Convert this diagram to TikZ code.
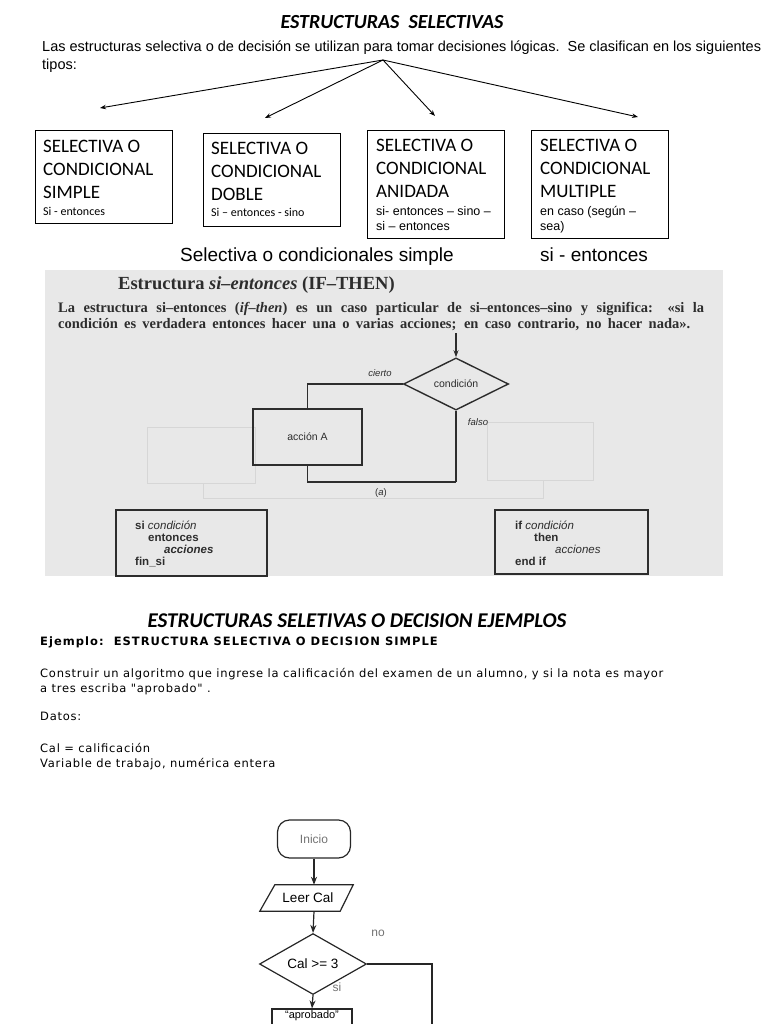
\documentclass[tikz,border=0pt]{standalone}
\usepackage{fontspec}
\setmainfont{Liberation Sans}
\newfontfamily\calfont{Carlito}
\newfontfamily\serfont{Liberation Serif}
\newfontfamily\verfont[LetterSpace=6.5]{DejaVu Sans}
\newfontfamily\verboldfont[LetterSpace=9]{DejaVu Sans Bold}
\usetikzlibrary{arrows.meta,shapes.geometric}
\definecolor{scanbg}{RGB}{232,232,232}
\definecolor{scanink}{RGB}{45,45,45}
\definecolor{ghost}{RGB}{214,214,214}
\begin{document}
\begin{tikzpicture}[x=1pt,y=-1pt,
  every node/.style={inner sep=0pt},
  bigtitle/.style={font=\calfont\bfseries\itshape\fontsize{20}{24}\selectfont},
  intro/.style={anchor=base west,font=\fontsize{14.5}{17}\selectfont},
  arr/.style={line width=0.9pt,-{Stealth[length=6pt,width=4.5pt]}},
  typebox/.style={draw,line width=0.9pt,minimum width=137pt,minimum height=#1},
  boxcap/.style={anchor=base west,font=\calfont\fontsize{19}{22}\selectfont},
  boxsmall/.style={anchor=base west,font=\calfont\fontsize{12}{14}\selectfont},
  boxsmallsans/.style={anchor=base west,font=\fontsize{12.5}{14}\selectfont},
  subhead/.style={anchor=base west,font=\fontsize{19}{22}\selectfont},
  scanline/.style={line width=1.4pt,draw=scanink},
  scanbox/.style={draw=scanink,line width=1.4pt},
  scanlbl/.style={font=\fontsize{9.5}{11}\selectfont,text=scanink},
  pcode/.style={anchor=base west,font=\fontsize{11.5}{13}\selectfont,text=scanink},
  ghostline/.style={draw=ghost,line width=0.8pt},
  body/.style={anchor=base west,font=\verfont\fontsize{11.5}{13}\selectfont},
  fc/.style={draw=black!85,line width=1.2pt},
  fcarr/.style={fc,-{Stealth[length=8pt,width=6pt]}},
  fctext/.style={font=\fontsize{13.5}{16}\selectfont},
  fcgray/.style={font=\fontsize{12}{14}\selectfont,text=black!55}
]
\useasboundingbox (0,0) rectangle (768,1024);
\clip (0,0) rectangle (768,1024);

% ---------- Title and introduction ----------
\node[bigtitle] (title) at (392,22) {ESTRUCTURAS\ \ SELECTIVAS};
\node[intro] (intro1) at (42,52) {Las estructuras selectiva o de decisión se utilizan para tomar decisiones lógicas.\ \ Se clasifican en los siguientes};
\node[intro] (intro2) at (42,70) {tipos:};

\coordinate (hub) at (383,60);
\coordinate (t1) at (100,108);
\coordinate (t2) at (265,118);
\coordinate (t3) at (435,116);
\coordinate (t4) at (638,117);
\draw[arr] (hub) -- (t1);
\draw[arr] (hub) -- (t2);
\draw[arr] (hub) -- (t3);
\draw[arr] (hub) -- (t4);

% ---------- Type boxes ----------
\node[typebox=93pt] (b1) at (103.5,176.5) {};
\node[typebox=93pt] (b2) at (271.5,179.5) {};
\node[typebox=108pt] (b3) at (436,184) {};
\node[typebox=108pt] (b4) at (599.5,184) {};

\node[boxcap] (b1l1) at (43,153) {SELECTIVA O};
\node[boxcap] (b1l2) at (43,176) {CONDICIONAL};
\node[boxcap] (b1l3) at (43,199) {SIMPLE};
\node[boxsmall] (b1l4) at (43,215) {Si - entonces};

\node[boxcap] (b2l1) at (211,155) {SELECTIVA O};
\node[boxcap] (b2l2) at (211,178) {CONDICIONAL};
\node[boxcap] (b2l3) at (211,201) {DOBLE};
\node[boxsmall] (b2l4) at (211,217) {Si – entonces - sino};

\node[boxcap] (b3l1) at (376,152) {SELECTIVA O};
\node[boxcap] (b3l2) at (376,175) {CONDICIONAL};
\node[boxcap] (b3l3) at (376,198) {ANIDADA};
\node[boxsmallsans] (b3l4) at (376,216) {si- entonces – sino –};
\node[boxsmallsans] (b3l5) at (376,231) {si – entonces};

\node[boxcap] (b4l1) at (540,152) {SELECTIVA O};
\node[boxcap] (b4l2) at (540,175) {CONDICIONAL};
\node[boxcap] (b4l3) at (540,198) {MULTIPLE};
\node[boxsmallsans] (b4l4) at (540,216) {en caso (según –};
\node[boxsmallsans] (b4l5) at (540,231) {sea)};

\node[subhead] (sub1) at (180,261) {Selectiva o condicionales simple};
\node[subhead] (sub2) at (540,261) {si - entonces};

% ---------- Scanned figure ----------
\fill[scanbg] (45,270) rectangle (723,576);
% faint bleed-through shapes
\draw[ghostline] (147,427) rectangle (255,483);
\draw[ghostline] (487,422) rectangle (593,480);
\draw[ghostline] (203,483) -- (203,498) -- (543,498) -- (543,480);

\node[anchor=base west,font=\serfont\bfseries\fontsize{18.5}{22}\selectfont,text=scanink] (stitle) at (118,289)
  {Estructura \textit{si–entonces} (IF–THEN)};
\node[anchor=base west,font=\serfont\bfseries\fontsize{14.5}{16}\selectfont,text=scanink] (spar1) at (58,312)
  {\makebox[646pt][s]{La estructura si–entonces (\textit{if–then}) es un caso particular de si–entonces–sino y significa: «si la}};
\node[anchor=base west,font=\serfont\bfseries\fontsize{14.5}{16}\selectfont,text=scanink] (spar2) at (58,328)
  {\makebox[632pt][s]{condición es verdadera entonces hacer una o varias acciones; en caso contrario, no hacer nada».}};

\coordinate (cin) at (456,333);
\node[scanbox,diamond,minimum width=105pt,minimum height=52pt,font=\fontsize{10.5}{12}\selectfont,text=scanink] (cond) at (456,384) {condición};
\node[scanbox,minimum width=109pt,minimum height=56pt,font=\fontsize{10.5}{12}\selectfont,text=scanink] (accA) at (307.5,437) {acción A};
\coordinate (join) at (456,482);
\draw[scanline,-{Stealth[length=7pt,width=5pt]}] (cin) -- (cond.north);
\draw[scanline] (cond.west) -| (accA.north);
\draw[scanline] (accA.south) |- (join);
\draw[scanline] (cond.south) -- (join);
\node[scanlbl,font=\itshape\fontsize{9.5}{11}\selectfont] (lcierto) at (380,373) {cierto};
\node[scanlbl,font=\itshape\fontsize{9.5}{11}\selectfont] (lfalso) at (478,422) {falso};
\node[scanlbl] (la) at (381,493) {(\textit{a})};

\node[scanbox,minimum width=151pt,minimum height=66pt] (pc1) at (191.5,543) {};
\node[pcode] (pc1a) at (135,529) {\textbf{si} \textit{condición}};
\node[pcode] (pc1b) at (148,541) {\textbf{entonces}};
\node[pcode] (pc1c) at (164,553) {\textbf{\textit{acciones}}};
\node[pcode] (pc1d) at (135,565) {\textbf{fin\_si}};

\node[scanbox,minimum width=153pt,minimum height=64pt] (pc2) at (571.5,542) {};
\node[pcode] (pc2a) at (515,529) {\textbf{if} \textit{condición}};
\node[pcode] (pc2b) at (534,541) {\textbf{then}};
\node[pcode] (pc2c) at (555,553) {\textit{acciones}};
\node[pcode] (pc2d) at (515,565) {\textbf{end if}};

% ---------- Examples ----------
\node[bigtitle,anchor=base,font=\calfont\bfseries\itshape\fontsize{21}{25}\selectfont] (title2) at (357,627) {ESTRUCTURAS SELETIVAS O DECISION EJEMPLOS};
\node[anchor=base west,font=\verboldfont\fontsize{11.5}{13}\selectfont] (ej) at (40,645) {Ejemplo:\ \ ESTRUCTURA SELECTIVA O DECISION SIMPLE};
\node[body] (c1) at (40,677) {Construir un algoritmo que ingrese la calificación del examen de un alumno, y si la nota es mayor};
\node[body] (c2) at (40,692) {a tres escriba "aprobado" .};
\node[body] (c3) at (40,720) {Datos:};
\node[body] (c4) at (40,752) {Cal = calificación};
\node[body] (c5) at (40,767) {Variable de trabajo, numérica entera};

% ---------- Flowchart ----------
\node[fc,rounded corners=12pt,minimum width=73pt,minimum height=38pt,fcgray] (ini) at (314,839) {Inicio};
\node[minimum width=80pt,minimum height=26pt,fctext] (leer) at (313,898) {\hspace*{-10pt}Leer Cal};
\draw[fc] ([xshift=-13pt]leer.south west) -- ([xshift=-13pt]leer.south east)
  -- (leer.north east) -- ([xshift=2pt]leer.north west) -- cycle;
\node[fc,diamond,minimum width=107pt,minimum height=52pt,fctext] (cal) at (313,964) {Cal >= 3};
\node[fc,minimum width=80pt,minimum height=34pt] (aprob) at (312,1026) {};
\node[font=\fontsize{11}{13}\selectfont] (aprobt) at (312,1016) {“aprobado”};
\coordinate (noend) at (432,1030);
\draw[fcarr] (ini.south) -- (ini.south |- leer.north);
\draw[fcarr] (ini.south |- leer.south) -- (cal.north);
\draw[fcarr] (cal.south) -- (aprob.north);
\draw[fc] (cal.east) -| (noend);
\node[fcgray] (lno) at (378,933) {no};
\node[fcgray] (lsi) at (337,987) {si};
\end{tikzpicture}
\end{document}
